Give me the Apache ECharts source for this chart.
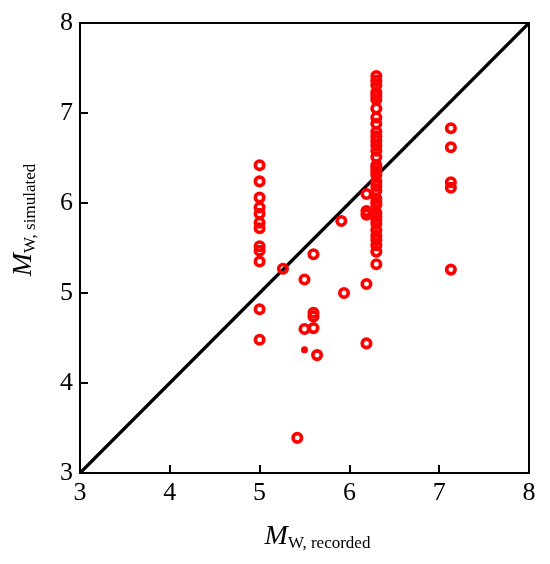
<!DOCTYPE html>
<html><head><meta charset="utf-8">
<script src="https://cdn.jsdelivr.net/npm/echarts@6/dist/echarts.min.js"></script>
<style>html,body{margin:0;padding:0;background:#fff}#c{width:550px;height:564px}</style>
</head><body><div id="c"></div>
<script>
var recorded = [
  5.0,5.0,5.0,5.0,5.0,5.0,5.0,5.0,5.0,5.0,5.0,5.0,
  5.26,5.42,5.5,5.5,5.6,5.6,5.6,5.6,5.64,5.91,5.94,
  6.19,6.19,6.19,6.19,6.19,
  6.3,6.3,6.3,6.3,6.3,6.3,6.3,6.3,6.3,6.3,6.3,6.3,6.3,6.3,6.3,6.3,6.3,6.3,6.3,6.3,6.3,6.3,6.3,6.3,6.3,
  6.3,6.3,6.3,6.3,6.3,6.3,6.3,6.3,6.3,6.3,
  7.13,7.13,7.13,7.13,7.13
];
var simulated = [
  6.42,6.24,6.06,5.95,5.88,5.78,5.72,5.52,5.47,5.35,4.82,4.48,
  5.27,3.39,5.15,4.60,5.43,4.78,4.74,4.61,4.31,5.80,5.00,
  6.10,5.91,5.87,5.10,4.44,
  7.41,7.31,7.23,7.15,7.05,6.88,6.79,6.74,6.64,6.51,6.42,6.39,6.31,6.24,6.14,6.05,5.98,5.89,5.85,5.77,5.70,5.64,5.53,5.46,5.32,
  7.36,7.19,6.95,6.69,6.58,6.35,6.19,6.01,5.81,5.59,
  6.83,6.62,6.23,6.17,5.26
];
var filledRecorded = [5.5];
var filledSimulated = [4.37];
var lineX = [3, 8];
var lineY = [3, 8];
var ticks = [3, 4, 5, 6, 7, 8];

var pts = recorded.map(function(x, i){ return [x, simulated[i]]; });
var fpts = filledRecorded.map(function(x, i){ return [x, filledSimulated[i]]; });
var lpts = lineX.map(function(x, i){ return [x, lineY[i]]; });

var font = 'Liberation Serif';
function axis(extra){
  var a = {
    type: 'value', min: ticks[0], max: ticks[ticks.length-1], interval: 1,
    axisLine: {show: true, lineStyle: {color: '#000', width: 2}},
    axisTick: {show: true, inside: true, length: 8, lineStyle: {color: '#000', width: 2}},
    splitLine: {show: false},
    axisLabel: {color: '#000', fontFamily: font, fontSize: 26, margin: 7},
    nameLocation: 'middle'
  };
  for (var k in extra) a[k] = extra[k];
  return a;
}
var chart = echarts.init(document.getElementById('c'), null, {renderer: 'canvas'});
chart.setOption({
  backgroundColor: '#fff',
  animation: false,
  grid: {left: 80, right: 21, top: 23, bottom: 91, show: true, borderColor: '#000', borderWidth: 2, backgroundColor: 'transparent'},
  xAxis: axis({
    name: '{m|M}{s|W, recorded}',
    nameGap: 48,
    nameTextStyle: {padding: [0, 0, 0, 26], rich: {
      m: {fontFamily: font, fontStyle: 'italic', fontSize: 28, color: '#000'},
      s: {fontFamily: font, fontSize: 17, color: '#000', padding: [14, 0, 0, 0]}
    }}
  }),
  yAxis: axis({
    name: '{m|M}{s|W, simulated}',
    nameGap: 41,
    nameTextStyle: {padding: [0, 0, 0, 56], rich: {
      m: {fontFamily: font, fontStyle: 'italic', fontSize: 28, color: '#000'},
      s: {fontFamily: font, fontSize: 17, color: '#000', padding: [14, 0, 0, 0]}
    }}
  }),
  series: [
    {type: 'line', data: lpts, symbol: 'none', lineStyle: {color: '#000', width: 3.2}, z: 3},
    {type: 'scatter', data: pts, symbol: 'circle', symbolSize: 8.5,
     itemStyle: {color: 'transparent', borderColor: '#ff0000', borderWidth: 3.6, opacity: 1}, z: 4},
    {type: 'scatter', data: fpts, symbol: 'circle', symbolSize: 7,
     itemStyle: {color: '#ff0000', opacity: 1}, z: 4}
  ]
});
</script></body></html>
